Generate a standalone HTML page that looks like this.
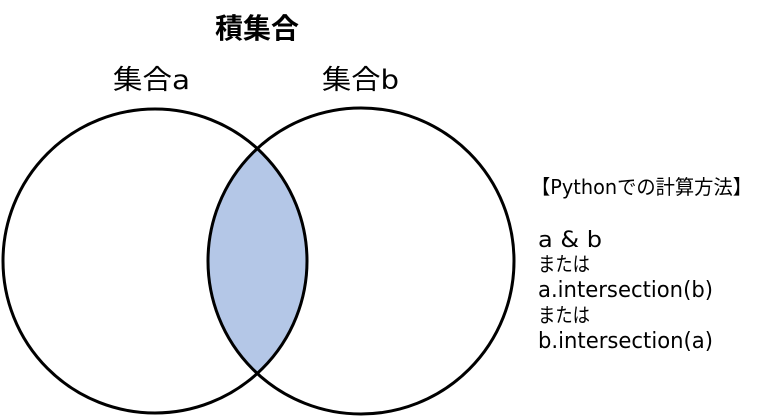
<!DOCTYPE html>
<html><head><meta charset="utf-8"><style>html,body{margin:0;padding:0;background:#fff;}svg{display:block}</style></head>
<body>
<svg width="768" height="418" viewBox="0 0 768 418" xmlns="http://www.w3.org/2000/svg" font-family="'DejaVu Sans','Noto Sans CJK JP',sans-serif">
<path d="M258,149 A152,152 0 0 1 258,373 A153,153 0 0 1 258,149 Z" fill="#b4c7e7"/>
<circle cx="155" cy="261" r="152" fill="none" stroke="#000" stroke-width="3"/>
<circle cx="361" cy="261" r="153" fill="none" stroke="#000" stroke-width="3"/>
<text x="257" y="38" font-size="28" font-weight="bold" text-anchor="middle" font-family="'Noto Sans CJK JP',sans-serif">積集合</text>
<text x="113" y="89" font-size="27" textLength="77" lengthAdjust="spacingAndGlyphs">集合a</text>
<text x="322" y="89" font-size="27" textLength="77" lengthAdjust="spacingAndGlyphs">集合b</text>
<text x="531" y="194" font-size="20" textLength="221" lengthAdjust="spacingAndGlyphs">【Pythonでの計算方法】</text>
<text x="538" y="247" font-size="22" textLength="64" lengthAdjust="spacingAndGlyphs">a &amp; b</text>
<text x="538" y="271" font-size="20" textLength="52" lengthAdjust="spacingAndGlyphs">または</text>
<text x="538" y="297" font-size="22" textLength="175" lengthAdjust="spacingAndGlyphs">a.intersection(b)</text>
<text x="538" y="322" font-size="20" textLength="52" lengthAdjust="spacingAndGlyphs">または</text>
<text x="538" y="348" font-size="22" textLength="175" lengthAdjust="spacingAndGlyphs">b.intersection(a)</text>
</svg>
</body></html>
